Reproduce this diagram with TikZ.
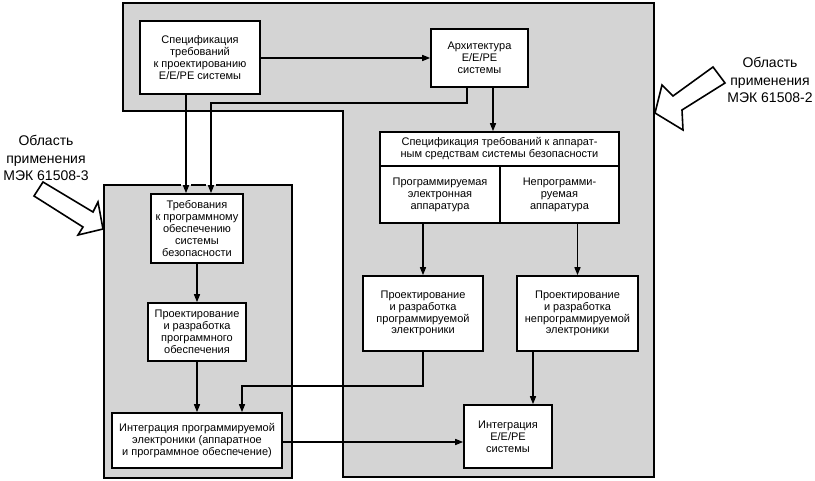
\documentclass[tikz,border=0pt]{standalone}
\usepackage{fontspec}
\setmainfont{Liberation Sans}
\usetikzlibrary{arrows.meta}
\definecolor{regiongray}{HTML}{D4D4D4}
\tikzset{
  box/.style={draw, fill=white, line width=1.6pt, inner sep=0pt, align=center,
    font=\fontsize{11}{11.9}\selectfont},
  arr/.style={line width=1.3pt, -{Triangle[length=8pt,width=6pt]}},
  conn/.style={line width=1.3pt},
  region/.style={fill=regiongray},
  regionline/.style={line width=1.6pt, line join=miter},
  hollow/.style={draw, fill=white, line width=1.6pt, line join=miter},
  scopelabel/.style={font=\fontsize{14}{17.5}\selectfont, align=center, inner sep=0pt}
}
\begin{document}
\begin{tikzpicture}[x=1pt,y=-1pt]
\useasboundingbox (0,0) rectangle (815,481);

% regions
\fill[region] (123,3) -- (654,3) -- (654,477) -- (343,477) -- (343,111) -- (123,111) -- cycle;
\draw[regionline] (123,3) -- (654,3) -- (654,477) -- (343,477) -- (343,111) -- (123,111) -- cycle;
\fill[region] (104,185) rectangle (292,478);
\draw[regionline] (181,185) -- (104,185) -- (104,478) -- (292,478) -- (292,185) -- (216,185);
\draw[regionline] (191,185) -- (206,185);

% hollow arrows
\draw[hollow] (43,182) -- (93,212) -- (98,202) -- (103,229) -- (78,235) -- (83,227) -- (34,196) -- cycle;
\draw[hollow] (655,113) -- (662,85) -- (673,96) -- (713,67) -- (725,83) -- (682,110) -- (683,130) -- cycle;

% labels
\node[scopelabel] (lab3) at (46,158) {Область\\применения\\МЭК 61508-3};
\node[scopelabel] (lab2) at (770,80) {Область\\применения\\МЭК 61508-2};

% boxes
\node[box, minimum width=120pt, minimum height=73pt] (spec) at (200,57.5)
  {Спецификация\\требований\\к проектированию\\E/E/PE системы};
\node[box, minimum width=97pt, minimum height=58pt] (arch) at (479.5,58)
  {Архитектура\\E/E/PE\\системы};
\node[box, minimum width=239pt, minimum height=34pt] (hwtop) at (499.5,149)
  {Спецификация требований к аппарат-\\ным средствам системы безопасности};
\node[box, minimum width=120pt, minimum height=57pt] (pehw) at (440,194.5)
  {Программируемая\\электронная\\аппаратура};
\node[box, minimum width=119pt, minimum height=57pt] (npehw) at (559.5,194.5)
  {Непрограмми-\\руемая\\аппаратура};
\node[box, minimum width=120pt, minimum height=75pt] (pedev) at (423,313.5)
  {Проектирование\\и разработка\\программируемой\\электроники};
\node[box, minimum width=121pt, minimum height=75pt] (npedev) at (577.5,313.5)
  {Проектирование\\и разработка\\непрограммируемой\\электроники};
\node[box, minimum width=88pt, minimum height=63pt] (integ) at (508,436.5)
  {Интеграция\\E/E/PE\\системы};
\node[box, minimum width=92pt, minimum height=69pt] (swreq) at (197,228.5)
  {Требования\\к программному\\обеспечению\\системы\\безопасности};
\node[box, minimum width=98pt, minimum height=58pt] (swdev) at (197,332)
  {Проектирование\\и разработка\\программного\\обеспечения};
\node[box, minimum width=170pt, minimum height=55pt] (swint) at (197,440.5)
  {Интеграция программируемой\\электроники (аппаратное\\и программное обеспечение)};

% helper coordinates
\coordinate (xa) at (186,0);
\coordinate (xb) at (211,0);
\coordinate (xc) at (467,0);
\coordinate (xd) at (493,0);
\coordinate (xe) at (242,0);
\coordinate (xf) at (533,0);
\coordinate (ya) at (0,103);
\coordinate (yb) at (0,386);
\coordinate (yc) at (0,442);

% connectors
\draw[arr] (spec.east |- arch.west) -- (arch.west);
\draw[arr] (spec.south -| xa) -- (swreq.north -| xa);
\draw[arr] (arch.south -| xc) -- (xc |- ya) -- (xb |- ya) -- (swreq.north -| xb);
\draw[arr] (arch.south -| xd) -- (hwtop.north -| xd);
\draw[arr] (pehw.south -| pedev.north) -- (pedev.north);
\draw[arr] (npehw.south -| npedev.north) -- (npedev.north);
\draw[arr] (pedev.south) -- (pedev.south |- yb) -- (xe |- yb) -- (swint.north -| xe);
\draw[arr] (npedev.south -| xf) -- (integ.north -| xf);
\draw[arr] (swreq.south) -- (swdev.north);
\draw[arr] (swdev.south) -- (swint.north);
\draw[arr] (swint.east |- yc) -- (integ.west |- yc);
\end{tikzpicture}
\end{document}
